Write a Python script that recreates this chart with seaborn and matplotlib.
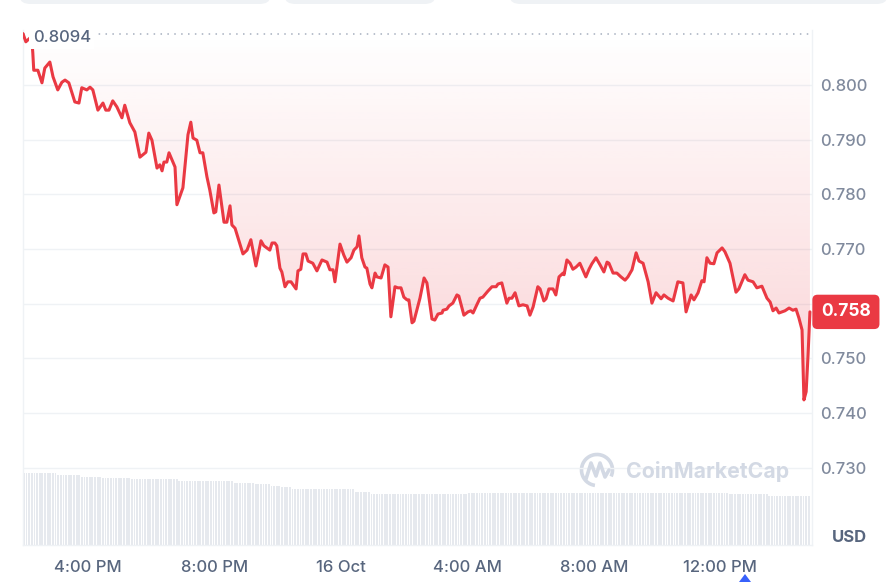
import numpy as np
import pandas as pd
import matplotlib
matplotlib.use("Agg")
import matplotlib.pyplot as plt
import seaborn as sns
from matplotlib.patches import FancyBboxPatch, Polygon, Arc
from matplotlib.lines import Line2D

# time in hours relative to 16 Oct 00:00, price in USD
hours = [-10.06, -9.97, -9.84, -9.78, -9.75, -9.72, -9.59, -9.46, -9.37, -9.21,
         -9.11, -8.96, -8.83, -8.73, -8.61, -8.42, -8.29, -8.20, -8.04, -7.94,
         -7.85, -7.69, -7.53, -7.44, -7.34, -7.22, -7.09, -6.93, -6.84, -6.68,
         -6.52, -6.36, -6.17, -6.08, -5.98, -5.82, -5.73, -5.66, -5.60, -5.51,
         -5.44, -5.25, -5.19, -5.00, -4.84, -4.75, -4.68, -4.56, -4.46, -4.37,
         -4.24, -4.15, -4.02, -3.96, -3.86, -3.70, -3.61, -3.51, -3.45, -3.35,
         -3.10, -2.97, -2.85, -2.69, -2.53, -2.44, -2.25, -2.18, -2.09, -2.03,
         -1.93, -1.87, -1.77, -1.68, -1.58, -1.42, -1.36, -1.27, -1.20, -1.11,
         -1.04, -0.89, -0.76, -0.60, -0.44, -0.35, -0.25, -0.19, -0.03, 0.09,
         0.19, 0.32, 0.41, 0.51, 0.57, 0.66, 0.76, 0.82, 0.92, 0.98,
         1.08, 1.14, 1.27, 1.39, 1.49, 1.58, 1.71, 1.80, 1.90, 1.99,
         2.09, 2.15, 2.25, 2.31, 2.50, 2.63, 2.72, 2.88, 2.97, 3.07,
         3.20, 3.23, 3.35, 3.42, 3.54, 3.67, 3.73, 3.89, 4.02, 4.11,
         4.18, 4.30, 4.40, 4.49, 4.65, 4.78, 4.91, 4.97, 5.09, 5.25,
         5.32, 5.41, 5.51, 5.63, 5.76, 5.89, 5.98, 6.08, 6.23, 6.30,
         6.42, 6.49, 6.58, 6.71, 6.80, 6.90, 7.03, 7.06, 7.15, 7.25,
         7.34, 7.44, 7.56, 7.75, 7.85, 7.94, 8.07, 8.20, 8.32, 8.42,
         8.48, 8.61, 8.73, 8.86, 8.99, 9.08, 9.21, 9.34, 9.43, 9.56,
         9.72, 9.84, 9.97, 10.13, 10.22, 10.35, 10.51, 10.66, 10.82, 10.92,
         11.08, 11.17, 11.30, 11.42, 11.49, 11.58, 11.68, 11.80, 11.90, 12.06,
         12.15, 12.31, 12.50, 12.59, 12.78, 12.88, 13.04, 13.16, 13.32, 13.48,
         13.58, 13.67, 13.77, 13.86, 14.05, 14.18, 14.30, 14.40, 14.49, 14.59,
         14.65, 14.72, 14.78, 14.84]
price = [0.8094, 0.8079, 0.8086, 0.8082, 0.8059, 0.8027, 0.8027, 0.8004, 0.8031, 0.8042,
         0.8015, 0.7991, 0.8005, 0.8009, 0.8004, 0.7969, 0.7967, 0.7995, 0.7991, 0.7996,
         0.7991, 0.7954, 0.7967, 0.7954, 0.7954, 0.7971, 0.7960, 0.7940, 0.7963, 0.7931,
         0.7914, 0.7868, 0.7877, 0.7912, 0.7899, 0.7848, 0.7854, 0.7843, 0.7859, 0.7859,
         0.7876, 0.7850, 0.7781, 0.7812, 0.7909, 0.7932, 0.7903, 0.7899, 0.7876, 0.7876,
         0.7832, 0.7808, 0.7766, 0.7768, 0.7817, 0.7749, 0.7749, 0.7779, 0.7744, 0.7738,
         0.7691, 0.7698, 0.7717, 0.7669, 0.7715, 0.7706, 0.7698, 0.7711, 0.7711, 0.7706,
         0.7665, 0.7658, 0.7631, 0.7640, 0.7640, 0.7627, 0.7660, 0.7663, 0.7691, 0.7691,
         0.7678, 0.7674, 0.7660, 0.7680, 0.7676, 0.7662, 0.7662, 0.7640, 0.7709, 0.7689,
         0.7676, 0.7684, 0.7698, 0.7704, 0.7724, 0.7684, 0.7667, 0.7665, 0.7636, 0.7629,
         0.7656, 0.7649, 0.7647, 0.7671, 0.7667, 0.7576, 0.7631, 0.7629, 0.7629, 0.7612,
         0.7607, 0.7607, 0.7565, 0.7568, 0.7610, 0.7647, 0.7638, 0.7572, 0.7570, 0.7581,
         0.7583, 0.7588, 0.7590, 0.7596, 0.7601, 0.7616, 0.7614, 0.7579, 0.7585, 0.7587,
         0.7583, 0.7598, 0.7610, 0.7612, 0.7623, 0.7631, 0.7631, 0.7636, 0.7638, 0.7601,
         0.7610, 0.7610, 0.7620, 0.7596, 0.7598, 0.7596, 0.7579, 0.7594, 0.7631, 0.7627,
         0.7605, 0.7609, 0.7627, 0.7627, 0.7616, 0.7649, 0.7656, 0.7653, 0.7680, 0.7674,
         0.7663, 0.7667, 0.7674, 0.7649, 0.7663, 0.7673, 0.7684, 0.7671, 0.7658, 0.7676,
         0.7674, 0.7656, 0.7656, 0.7649, 0.7643, 0.7649, 0.7662, 0.7693, 0.7678, 0.7674,
         0.7640, 0.7601, 0.7620, 0.7609, 0.7616, 0.7610, 0.7605, 0.7640, 0.7638, 0.7585,
         0.7616, 0.7607, 0.7620, 0.7642, 0.7640, 0.7684, 0.7674, 0.7673, 0.7693, 0.7702,
         0.7695, 0.7674, 0.7621, 0.7627, 0.7653, 0.7643, 0.7640, 0.7629, 0.7632, 0.7610,
         0.7603, 0.7587, 0.7592, 0.7583, 0.7587, 0.7592, 0.7588, 0.7590, 0.7574, 0.7552,
         0.7424, 0.7439, 0.7506, 0.7585]

open_price = 0.8094
last_label = "0.758"

# volume (arbitrary units), constant from each start hour on
vol_start = [-10.06, -8.99, -8.26, -7.63, -6.68, -5.22, -3.42, -2.75, -2.28, -1.90,
             -1.61, 0.38, 0.92, 3.96, 12.25, 13.51, 14.78]
vol_level = [288, 280, 273, 269, 263, 256, 249, 243, 236, 231,
             224, 213, 203, 209, 203, 196, 208]

tick_hours = [-8, -4, 0, 4, 8, 12]
tick_labels = ["4:00 PM", "8:00 PM", "16 Oct", "4:00 AM", "8:00 AM", "12:00 PM"]
price_ticks = [0.730, 0.740, 0.750, 0.760, 0.770, 0.780, 0.790, 0.800]

RED = "#ea3943"
W, H = 892, 582

sns.set_style("white")
plt.rcParams['font.family'] = ['Inter', 'DejaVu Sans']


def px(x, y):
    return (x / W, 1 - y / H)


fig = plt.figure(figsize=(W / 100, H / 100), dpi=100)
fig.patch.set_facecolor("white")
ax = fig.add_axes([23 / W, 37 / H, 789 / W, 515 / H])

# volume bars on a hidden twin axis
axv = ax.twinx()
bar_x = np.arange(vol_start[0], hours[-1] + 0.01, 1 / 12)
idx = np.searchsorted(vol_start, bar_x, side="right") - 1
bar_h = np.array(vol_level)[idx]
axv.bar(bar_x, bar_h, width=0.058, color="#e6e9ee", linewidth=0, align="edge")
axv.set_ylim(0, max(vol_level) * 515 / 72)
axv.set_axis_off()
ax.set_zorder(axv.get_zorder() + 1)
ax.patch.set_visible(False)

# price line
df = pd.DataFrame({"hour": hours, "price": price})
sns.lineplot(data=df, x="hour", y="price", ax=ax, color=RED, linewidth=2.2, zorder=5)

# gradient fill between line and open price
poly = ax.fill_between(hours, price, open_price, color="none", linewidth=0)
grad = np.zeros((256, 1, 4))
grad[:, 0, :3] = matplotlib.colors.to_rgb(RED)
grad[:, 0, 3] = np.linspace(0.22, 0.0, 256)
im = ax.imshow(grad, extent=[hours[0], hours[-1], min(price), open_price],
               origin="lower", aspect="auto", zorder=2)
im.set_clip_path(poly.get_paths()[0], transform=ax.transData)

ax.axhline(open_price, color="#a6afbf", linewidth=1.1, linestyle=(0, (1, 3.5)), zorder=3)

ax.set_xlim(-10.06, 14.905)
ax.set_ylim(0.71586, 0.81006)

# the 0.760 label sits behind the current price tag
ax.set_yticks(price_ticks)
ax.set_yticklabels(["" if abs(v - 0.760) < 1e-9 else f"{v:.3f}" for v in price_ticks])
ax.yaxis.tick_right()
ax.tick_params(axis="y", length=0, pad=6, labelcolor="#808a9d", labelsize=12)
ax.set_xticks(tick_hours)
ax.set_xticklabels(tick_labels)
ax.tick_params(axis="x", length=0, pad=11, labelcolor="#58667e", labelsize=12)
for lab in ax.get_xticklabels() + ax.get_yticklabels():
    lab.set_fontweight("medium")
ax.grid(axis="y", color="#eff2f5", linewidth=1)
ax.grid(axis="x", visible=False)
ax.set_xlabel("")
ax.set_ylabel("")
for s in ["left", "right", "bottom"]:
    ax.spines[s].set_color("#eff2f5")
    ax.spines[s].set_linewidth(1)
ax.spines["top"].set_visible(False)

# open price label
ax.annotate("0.8094", xy=(0, open_price), xycoords=("axes fraction", "data"),
            xytext=(7, -3), textcoords="offset points", ha="left", va="center",
            color="#58667e", fontsize=12, fontweight="medium", zorder=10,
            bbox=dict(boxstyle="square,pad=0.2", fc="white", ec="none"))

# current price tag
ax.annotate(last_label, xy=(1, price[-1]), xycoords=("axes fraction", "data"),
            xytext=(6.5, 0), textcoords="offset points", ha="left", va="center",
            color="white", fontsize=12.5, fontweight="bold", zorder=10,
            annotation_clip=False,
            bbox=dict(boxstyle="round,pad=0.5,rounding_size=0.3", fc=RED, ec="none"))

fig.text(*px(849, 538), "USD", ha="center", va="center", fontsize=12,
         fontweight="bold", color="#58667e")

# watermark
wm = "#d3d9e4"
fig.text(*px(626, 472), "CoinMarketCap", ha="left", va="center", fontsize=15.3,
         fontweight="bold", color=wm)
fig.add_artist(Arc(px(597, 470), 31 / W, 31 / H, theta1=-35, theta2=265,
                   transform=fig.transFigure, color=wm, linewidth=2.6))
mx = [586, 591, 596, 600, 605, 609]
my = [479, 463, 476, 463, 477, 470]
fig.add_artist(Line2D([x / W for x in mx], [1 - y / H for y in my],
                      transform=fig.transFigure, color=wm, linewidth=2.6,
                      solid_joinstyle="round", solid_capstyle="round"))

# top tab fragments and marker
for x0, x1 in [(20, 270), (285, 435), (510, 887)]:
    fig.add_artist(FancyBboxPatch(px(x0, 4), (x1 - x0) / W, 14 / H,
                                  boxstyle="round,pad=0,rounding_size=0.012",
                                  transform=fig.transFigure, fc="#eff2f5", ec="none"))
fig.add_artist(Polygon([px(739, 582), px(751, 582), px(745, 574)], closed=True,
                       transform=fig.transFigure, fc="#3861fb", ec="none"))

fig.savefig("out.png", dpi=100)
